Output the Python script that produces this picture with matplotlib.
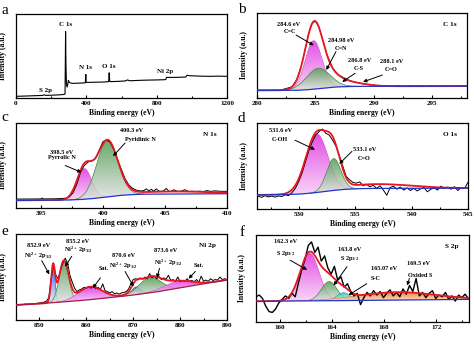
import numpy as np
import matplotlib
matplotlib.use('Agg')
import matplotlib.pyplot as plt
from matplotlib.path import Path
from matplotlib.patches import PathPatch
from matplotlib.colors import to_rgb
from matplotlib.ticker import MultipleLocator

plt.rcParams['font.family'] = ['Liberation Serif', 'DejaVu Serif']
plt.rcParams['font.weight'] = 'bold'
plt.rcParams['mathtext.default'] = 'regular'

# ---------------- data ----------------
# (a) survey
a_x = [0, 50, 100, 150, 160, 170, 200, 250, 275, 279, 282, 284, 287, 291, 295, 298, 302, 308, 320, 340,
       370, 394, 397, 399, 402, 450, 500, 527, 530, 533, 537, 580, 620, 635, 645, 700, 750, 800, 845, 852,
       856, 900, 950, 965, 972, 990, 1050, 1100, 1150, 1200]
a_y = [2, 2.3, 2.7, 3.0, 3.8, 3.1, 3.3, 3.8, 4.3, 5, 79, 40, 16, 13, 17, 21, 19, 18, 17.5, 17.5,
       17.8, 18, 28, 19, 18.5, 18.8, 19, 19.5, 30, 20, 19.5, 19.8, 20.3, 21.5, 20.5, 21, 21.3, 21.5, 21.8, 22,
       24.5, 24.5, 24.8, 25, 27, 26.5, 26, 25.8, 26, 25.8]
a_labels = ['S 2p', 'C 1s', 'N 1s', 'O 1s', 'Ni 2p']
a_label_x = [165, 283, 395, 528, 850]
a_label_y = [9, 88, 36, 38, 32]

# (b) C 1s
b_raw_x = [280, 281, 282, 283, 283.4, 283.8, 284.1, 284.4, 284.7, 285, 285.3, 285.6, 286, 286.5, 287,
           287.5, 288, 288.5, 289, 289.5, 290, 290.5, 291, 291.5, 292, 292.5, 293, 293.5, 294, 294.5,
           295, 295.5, 296, 296.5, 297, 297.5, 298]
b_raw_y = [9.2, 9.1, 9.3, 13.2, 21.4, 37.9, 55.6, 74, 87, 90.6, 83.5, 70, 51, 34.9, 27,
           23.4, 20.1, 18.4, 16.8, 15.9, 15.1, 14.5, 14.6, 14.1, 14.5, 13.9, 14.4, 14.0, 14.3, 13.8,
           14.4, 14.0, 14.2, 13.9, 14.3, 14.1, 14.2]
b_base_x = [280, 283, 283.5, 284, 284.5, 285, 285.5, 286, 286.5, 287, 288, 290, 298]
b_base_y = [9, 9, 9.1, 9.4, 9.9, 10.6, 11.4, 12.1, 12.7, 13.1, 13.6, 13.8, 14]
b_centers = [284.85, 285.25, 286.8, 288.1]
b_fwhm = [1.7, 2.4, 2.0, 3.0]
b_height = [57, 24, 5, 4]
b_kind = ['pink', 'green', 'none', 'none']

# (c) N 1s
c_raw_x = [393, 394, 395, 395.1, 395.2, 396, 396.5, 397, 397.3, 397.6, 397.9, 398.2, 398.5, 398.8, 399.1,
           399.4, 399.7, 400, 400.3, 400.6, 400.9, 401.2, 401.5, 401.8, 402.1, 402.4, 402.7, 403, 403.3,
           403.5, 403.7, 403.9, 404.1, 404.3, 404.5, 404.7, 404.9, 405.1, 405.3, 405.5, 405.7, 406, 406.3,
           406.6, 406.9, 407.2, 407.5, 407.8, 408.1, 408.4, 408.7, 409, 409.5, 410]
c_raw_y = [10.5, 10.6, 10.7, 11.8, 10.7, 10.8, 11, 11.5, 13, 18, 28, 42, 50, 54, 55.5,
           58, 68, 78, 80, 77, 68, 56, 45, 34, 27, 23, 21, 20, 20.5,
           22.5, 20, 22, 19.8, 22.5, 20, 19.6, 20.2, 23, 20, 19.5, 21.5, 19.6, 19.8,
           21.5, 19.5, 19.7, 19.5, 19.8, 19.4, 20.5, 19.5, 20.2, 19.6, 19.6]
c_base_x = [393, 397, 398, 399, 400, 401, 402, 403, 410]
c_base_y = [9, 9.3, 9.8, 10.8, 12.5, 14.3, 15.5, 16.2, 16.8]
c_centers = [398.5, 400.35, 405.5]
c_fwhm = [1.4, 2.0, 8.0]
c_height = [36, 66, 3]
c_kind = ['pink', 'green', 'none']

# (d) O 1s
d_raw_x0, d_raw_dx = 526.4, 0.3
d_raw_y = [15, 13.5, 15.5, 14, 15, 13.8, 15.2, 14.5, 16.5, 15.5,
           19, 24, 32, 42, 55, 68, 78, 86, 90, 93,
           88, 86, 80, 73, 62, 50, 38, 34, 31, 30,
           31.5, 27, 28.5, 26, 27.5, 24, 27, 22, 16, 25,
           26.5, 23, 25.5, 22, 24.5, 21.5, 24, 21, 23.5, 25,
           20, 23, 24.5, 22, 26.5, 24, 25.5, 23, 26, 21.5,
           25, 24, 31]
d_base_x = [526.3, 529, 530, 531, 532, 533, 534, 535, 536, 545]
d_base_y = [16.3, 16.8, 17.3, 18.3, 19.8, 21.5, 22.8, 23.5, 23.9, 24.3]
d_centers = [531.6, 533.1, 537.0]
d_fwhm = [2.3, 1.5, 7.0]
d_height = [68, 37, 5]
d_kind = ['pink', 'green', 'none']

# (e) Ni 2p
e_raw_x0, e_raw_dx = 845.0, 0.5
e_raw_y = [17.5, 17.8, 18.0, 17.9, 18.5, 18.3, 18.6, 18.8, 19.0, 19.3,
           19.8, 20.2, 20.8, 22.0, 26.0, 48.0, 64.0, 52.0, 48.0, 58.0,
           66.0, 72.0, 66.0, 52.0, 44.0, 37.0, 33.0, 35.0, 36.0, 38.0,
           37.0, 39.0, 37.0, 40.0, 36.5, 38.0, 35.5, 42.0, 34.0, 33.0,
           31.5, 33.0, 30.5, 31.5, 30.0, 31.5, 32.0, 33.0, 36.0, 42.0,
           47.0, 48.0, 46.5, 49.0, 47.5, 50.0, 48.0, 54.0, 49.0, 51.0,
           48.0, 50.5, 47.0, 49.0, 47.5, 52.0, 46.0, 47.0, 45.0, 50.0,
           44.5, 46.0, 45.0, 48.0, 45.0, 46.0, 44.5, 47.0, 44.0, 51.0,
           45.0, 46.5, 45.0, 48.0, 46.0, 47.0, 46.5, 50.0, 47.0, 48.0,
           47.0]
e_base_x = [845, 850, 855, 860, 865, 870, 875, 880, 885, 890]
e_base_y = [17.5, 19, 21, 23.2, 26, 29, 32.7, 37.5, 42, 46.7]
e_centers = [852.9, 855.2, 860.8, 870.6, 873.6, 879.5]
e_fwhm = [1.0, 2.4, 6.0, 2.2, 5.5, 7.0]
e_height = [42, 47, 15, 9, 18, 8]
e_kind = ['blue', 'green', 'pink', 'blue', 'green', 'pink']

# (f) S 2p
f_raw_x0, f_raw_dx = 158.2, 0.25
f_raw_y = [29, 31, 27, 18, 12, 11, 15, 22, 26, 30,
           27, 33, 29, 45, 60, 72, 88, 92, 80, 86,
           70, 76, 62, 55, 64, 48, 52, 40, 44, 35,
           30, 33, 20, 28, 34, 30, 36, 31, 35, 28,
           33, 37, 30, 34, 29, 38, 32, 42, 35, 50,
           30, 34, 28, 33, 36, 27, 31, 29, 34, 26,
           30, 24, 31, 28, 32, 27]
f_base_x = [158.2, 162, 166, 170, 174.5]
f_base_y = [23.8, 24.2, 24.8, 25.4, 26]
f_centers = [162.3, 163.8, 164.9, 169.0]
f_fwhm = [1.7, 1.4, 1.2, 7.0]
f_height = [55, 22, 9, 9]
f_kind = ['pink', 'green', 'teal', 'orange']

# ---------------- styling ----------------
FILL = {
    'pink': ('#e030e0', '#f7cdf7', '#d060d0'),
    'green': ('#4f9a4f', '#e2e2e2', '#458845'),
    'blue': ('#3050e8', '#dfe8fa', '#3355ff'),
    'teal': ('#20c0b0', '#d8f4f0', '#20a8a0'),
    'orange': ('#f07020', '#fcdcc0', '#f08040'),
}
RED = '#e8161e'
BLUE = '#2233cc'

fig = plt.figure(figsize=(4.74, 3.47), dpi=100)


def axes_px(l, t, r, b):
    return fig.add_axes([l / 474, 1 - b / 347, (r - l) / 474, (b - t) / 347])


def gauss(x, c, w, h):
    return h * np.exp(-4 * np.log(2) * ((x - c) / w) ** 2)


def grad_fill(ax, x, y0, y1, ctop, cbot, alpha=0.9, z=1):
    poly = np.column_stack([np.concatenate([x, x[::-1]]), np.concatenate([y1, y0[::-1]])])
    patch = PathPatch(Path(poly), facecolor='none', edgecolor='none')
    ax.add_patch(patch)
    lo, hi = float(y0.min()), float(y1.max())
    t = np.linspace(0, 1, 128)[:, None, None]
    c0 = np.array(to_rgb(cbot))[None, None, :]
    c1 = np.array(to_rgb(ctop))[None, None, :]
    rgb = c0 * (1 - t) + c1 * t
    rgba = np.concatenate([rgb, np.full((128, 1, 1), alpha)], axis=2)
    im = ax.imshow(rgba, extent=[x.min(), x.max(), lo, hi], origin='lower',
                   aspect='auto', interpolation='bilinear', zorder=z)
    im.set_clip_path(patch)


def style(ax, xlim, major, minor):
    ax.set_xlim(*xlim)
    ax.set_ylim(0, 100)
    ax.set_yticks([])
    ax.xaxis.set_major_locator(MultipleLocator(major))
    ax.xaxis.set_minor_locator(MultipleLocator(minor))
    ax.tick_params(axis='x', which='both', direction='in', top=False, labelsize=5, pad=2.5, width=0.8)
    ax.tick_params(axis='x', which='major', length=2.5)
    ax.tick_params(axis='x', which='minor', length=1.5)
    for lab in ax.get_xticklabels():
        lab.set_fontweight('bold')
    for s in ax.spines.values():
        s.set_linewidth(0.9)
    ax.set_xlabel('Binding energy (eV)', fontsize=5.5, labelpad=1.5, fontweight='bold')
    ax.set_ylabel('Intensity (a.u.)', fontsize=5.5, fontweight='bold')
    ax.yaxis.set_label_coords(-0.045, 0.5)


def fit_panel(ax, xlim, base_x, base_y, centers, fwhm, height, kind, raw_x, raw_y,
              raw_lw=0.7, base_color=BLUE):
    xx = np.linspace(xlim[0], xlim[1], 800)
    bb = np.interp(xx, base_x, base_y)
    total = np.zeros_like(xx)
    z = 1
    for c, w, h, k in zip(centers, fwhm, height, kind):
        comp = gauss(xx, c, w, h)
        total += comp
        if k == 'none':
            continue
        m = comp > 0.15
        ctop, cbot, cedge = FILL[k]
        grad_fill(ax, xx[m], bb[m], bb[m] + comp[m], ctop, cbot, alpha=0.85, z=z)
        ax.plot(xx[m], bb[m] + comp[m], color=cedge, lw=0.5, zorder=z + 0.5)
        z += 1
    ax.plot(raw_x, raw_y, color='k', lw=raw_lw, zorder=10)
    ax.plot(xx, bb + total, color=RED, lw=1.3, zorder=11)
    ax.plot(xx, bb, color=base_color, lw=0.9, zorder=12)


def annot(ax, txts, arrows, fs=4.5):
    for (fx, fy, s) in txts:
        ax.text(fx, fy, s, transform=ax.transAxes, ha='center', va='center', fontsize=fs,
                fontweight='bold', zorder=20)
    for (x1, y1, x2, y2) in arrows:
        ax.annotate('', xy=(x2, y2), xytext=(x1, y1), xycoords='axes fraction',
                    textcoords='axes fraction', zorder=20,
                    arrowprops=dict(arrowstyle='-|>', color='k', lw=0.7, mutation_scale=5,
                                    shrinkA=0, shrinkB=0))


def corner(ax, s):
    ax.text(0.95, 0.87, s, transform=ax.transAxes, ha='right', va='center', fontsize=5.2,
            fontweight='bold', zorder=20)


# ---- (a)
axa = axes_px(16, 14, 227, 98)
axa.plot(a_x, a_y, color='k', lw=0.8)
style(axa, (0, 1200), 400, 200)
for s, x, y in zip(a_labels, a_label_x, a_label_y):
    axa.text(x, y, s, ha='center', va='center', fontsize=5, fontweight='bold')

# ---- (b)
axb = axes_px(257, 13, 467, 98)
fit_panel(axb, (280, 298), b_base_x, b_base_y, b_centers, b_fwhm, b_height, b_kind, b_raw_x, b_raw_y,
          raw_lw=0.6)
style(axb, (280, 298), 5, 2.5)
corner(axb, 'C 1s')
annot(axb,
      [(0.148, 0.87, '284.6 eV'), (0.155, 0.78, 'C=C'),
       (0.40, 0.68, '284.98 eV'), (0.40, 0.585, 'C=N'),
       (0.49, 0.44, '286.8 eV'), (0.485, 0.35, 'C-S'),
       (0.64, 0.43, '288.1 eV'), (0.64, 0.33, 'C=O')],
      [(0.186, 0.74, 0.27, 0.62), (0.376, 0.545, 0.33, 0.33),
       (0.467, 0.29, 0.406, 0.19), (0.597, 0.27, 0.505, 0.19)])

# ---- (c)
axc = axes_px(16, 123, 227, 208)
fit_panel(axc, (393, 410), c_base_x, c_base_y, c_centers, c_fwhm, c_height, c_kind, c_raw_x, c_raw_y)
style(axc, (393, 410), 5, 2.5)
corner(axc, 'N 1s')
annot(axc,
      [(0.217, 0.655, '398.5 eV'), (0.217, 0.59, 'Pyrrolic N'),
       (0.55, 0.91, '400.3 eV'), (0.59, 0.81, 'Pyridinic N')],
      [(0.233, 0.50, 0.31, 0.42), (0.517, 0.765, 0.46, 0.61)])

# ---- (d)
axd = axes_px(257, 123, 468, 209)
d_raw_x = [round(d_raw_x0 + d_raw_dx * i, 2) for i in range(len(d_raw_y))]
fit_panel(axd, (526.3, 545), d_base_x, d_base_y, d_centers, d_fwhm, d_height, d_kind, d_raw_x, d_raw_y)
style(axd, (526.3, 545), 5, 2.5)
corner(axd, 'O 1s')
annot(axd,
      [(0.11, 0.91, '531.6 eV'), (0.11, 0.81, 'C-OH'),
       (0.51, 0.69, '533.1 eV'), (0.51, 0.59, 'C=O')],
      [(0.18, 0.80, 0.275, 0.69), (0.45, 0.67, 0.39, 0.525)])

# ---- (e)
axe = axes_px(16, 234, 227, 320)
e_raw_x = [round(e_raw_x0 + e_raw_dx * i, 2) for i in range(len(e_raw_y))]
fit_panel(axe, (845, 890), e_base_x, e_base_y, e_centers, e_fwhm, e_height, e_kind, e_raw_x, e_raw_y,
          base_color='#a8184a')
style(axe, (845, 890), 10, 5)
corner(axe, 'Ni 2p')
annot(axe,
      [(0.106, 0.868, '852.9 eV'), (0.106, 0.75, r'Ni$^{2+}$ 2p$_{3/2}$'),
       (0.29, 0.914, '855.2 eV'), (0.296, 0.817, r'Ni$^{2+}$ 2p$_{3/2}$'),
       (0.415, 0.595, 'Sat.'),
       (0.51, 0.75, '870.6 eV'), (0.51, 0.634, r'Ni$^{2+}$ 2p$_{1/2}$'),
       (0.707, 0.805, '873.6 eV'), (0.72, 0.67, r'Ni$^{2+}$ 2p$_{1/2}$'),
       (0.865, 0.634, 'Sat.')],
      [(0.122, 0.69, 0.158, 0.53), (0.264, 0.74, 0.233, 0.62),
       (0.40, 0.49, 0.364, 0.37), (0.517, 0.564, 0.557, 0.39),
       (0.68, 0.60, 0.668, 0.49), (0.85, 0.565, 0.818, 0.48)])

# ---- (f)
axf = axes_px(256, 235, 469, 322)
f_raw_x = [round(f_raw_x0 + f_raw_dx * i, 2) for i in range(len(f_raw_y))]
fit_panel(axf, (158.2, 174.5), f_base_x, f_base_y, f_centers, f_fwhm, f_height, f_kind, f_raw_x, f_raw_y,
          raw_lw=1.0)
style(axf, (158.2, 174.5), 4, 2)
corner(axf, 'S 2p')
annot(axf,
      [(0.137, 0.92, '162.3 eV'), (0.14, 0.79, r'S 2p$_{3/2}$'),
       (0.44, 0.83, '163.8 eV'), (0.44, 0.73, r'S 2p$_{1/2}$'),
       (0.60, 0.615, '165.07 eV'), (0.56, 0.50, 'S-C'),
       (0.765, 0.67, '169.5 eV'), (0.77, 0.54, 'Oxided S')],
      [(0.16, 0.71, 0.24, 0.60), (0.427, 0.635, 0.364, 0.42),
       (0.52, 0.44, 0.435, 0.31), (0.72, 0.50, 0.71, 0.42)])

# ---- panel letters
for s, (px, py) in zip('abcdef', [(1, 14), (238, 13), (1, 121), (238, 122), (1, 235), (240, 236)]):
    fig.text(px / 474, 1 - py / 347, s, fontsize=11, fontweight='normal', ha='left', va='baseline')

fig.savefig('out.png', dpi=100)
